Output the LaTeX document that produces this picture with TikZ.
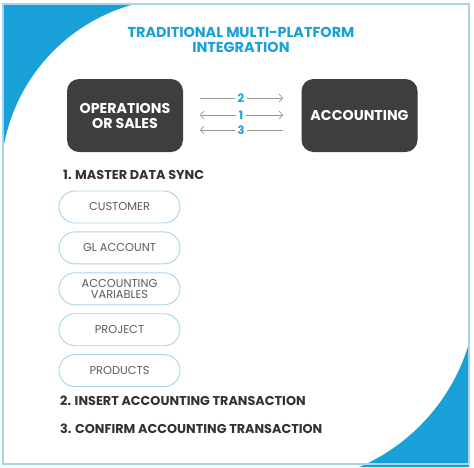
\documentclass[tikz,border=0pt]{standalone}
\usepackage{fontspec}
\setmainfont{Poppins}
\usetikzlibrary{arrows.meta,positioning}

\definecolor{skyblue}{RGB}{26,160,216}
\definecolor{paleblue}{RGB}{165,213,235}
\definecolor{boxgray}{RGB}{62,62,64}
\definecolor{headgray}{RGB}{50,50,52}
\definecolor{pillgray}{RGB}{90,90,92}
\definecolor{flowgray}{RGB}{150,150,150}

\begin{document}
\begin{tikzpicture}[x=1pt,y=-1pt,
  >={Straight Barb[length=3.5pt,width=8pt]},
  titletext/.style={text=skyblue,font=\fontsize{14.4}{15}\selectfont\bfseries,align=center},
  darkbox/.style={fill=boxgray,rounded corners=12pt,minimum width=116pt,minimum height=73pt,
    text=white,font=\fontsize{14.2}{15}\selectfont\bfseries,align=center},
  pill/.style={draw=paleblue,line width=0.9pt,rounded corners=16pt,minimum width=121pt,
    minimum height=32pt,inner sep=0pt,text=pillgray,font=\fontsize{11.4}{11.5}\selectfont,align=center},
  heading/.style={anchor=west,inner sep=0pt,text=headgray,font=\fontsize{12.8}{13}\selectfont\bfseries},
  flownum/.style={text=skyblue,font=\fontsize{11.5}{13}\selectfont\bfseries,inner sep=2.5pt},
  flow/.style={draw=flowgray,line width=0.7pt},
  node distance=8pt]

\useasboundingbox (0,0) rectangle (474,467);

% blue corners
\fill[skyblue] (3,4) -- (134.9,4) arc[start angle=255.2, end angle=188.6, radius=180] -- cycle;
\fill[skyblue] (469,467) -- (469,343.3) arc[start angle=16.47, end angle=66.63, radius=195] -- cycle;
\draw[paleblue,line width=1.5pt] (3,4) rectangle (469,464);

\node[titletext] (title) at (241,39.5) {TRADITIONAL MULTI-PLATFORM\\INTEGRATION};

\node[darkbox] (ops) at (125,115.5) {OPERATIONS\\OR SALES};
\node[darkbox] (acct) at (359.5,115.5) {ACCOUNTING};

% flows between the two systems
\node[flownum] (n2) at (241,98) {2};
\node[flownum] (n1) at (241,115) {1};
\node[flownum] (n3) at (241,130) {3};
\coordinate (l2) at (200,98);  \coordinate (r2) at (283,98);
\coordinate (l1) at (200,115); \coordinate (r1) at (283,115);
\coordinate (l3) at (200,130); \coordinate (r3) at (283,130);
\draw[flow] (l2) -- (n2);
\draw[flow,->] (n2) -- (r2);
\draw[flow,<-] (l1) -- (n1);
\draw[flow,->] (n1) -- (r1);
\draw[flow,<-] (l3) -- (n3);
\draw[flow] (n3) -- (r3);

\node[heading] (sync) at (63,175) {1. MASTER DATA SYNC};

\node[pill] (customer) at (119.5,207) {CUSTOMER};
\node[pill,below=of customer] (glacct) {GL ACCOUNT};
\node[pill,below=of glacct] (variables) {ACCOUNTING\\VARIABLES};
\node[pill,below=of variables] (project) {PROJECT};
\node[pill,below=of project] (products) {PRODUCTS};

\node[heading] (insert) at (60,401) {2. INSERT ACCOUNTING TRANSACTION};
\node[heading] (confirm) at (60,429) {3. CONFIRM ACCOUNTING TRANSACTION};
\end{tikzpicture}
\end{document}
